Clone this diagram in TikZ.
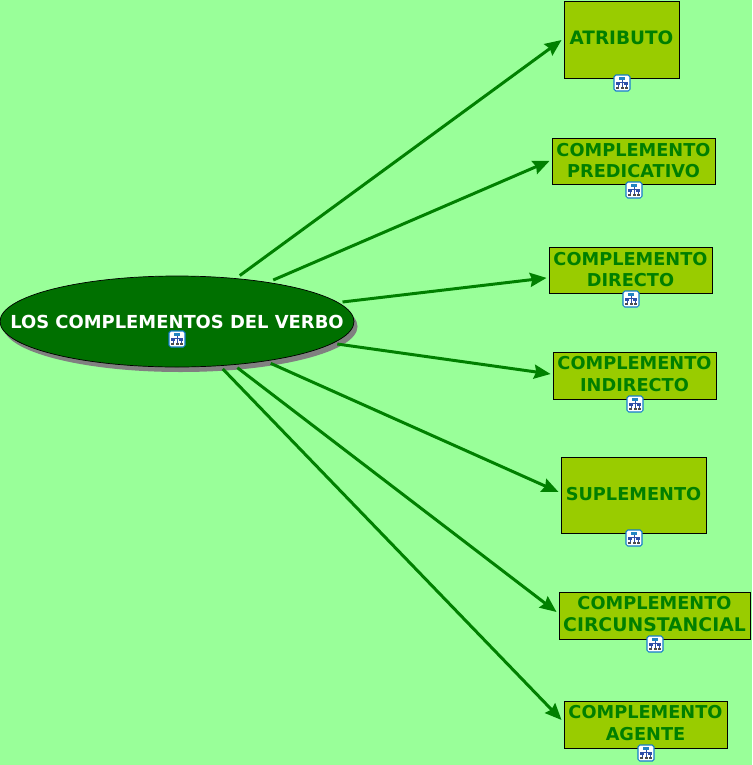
\documentclass[tikz,border=0pt]{standalone}
\usepackage{fontspec}
\setmainfont{DejaVu Sans}
\usetikzlibrary{arrows.meta,shapes.geometric,shadows}
\definecolor{bgcolor}{HTML}{99FF99}
\definecolor{boxcolor}{HTML}{99CC00}
\definecolor{textgreen}{HTML}{007F00}
\definecolor{maincolor}{HTML}{007000}
\definecolor{iconblue}{HTML}{2F4FA8}
\newcommand{\lifted}[1]{\raisebox{-0.5pt}[\height][\depth]{\begin{tabular}{@{}c@{}}#1\end{tabular}}}
\tikzset{
  mainnode/.style={ellipse,draw=black,fill=maincolor,text=white,inner xsep=-1.3cm,inner ysep=0pt,outer sep=2pt,
    font=\fontsize{10.2}{12.2}\selectfont\bfseries,minimum width=354*0.02cm,minimum height=91*0.02cm,
    drop shadow={shadow xshift=0.07cm,shadow yshift=-0.1cm,fill=gray,opacity=1}},
  boxnode/.style={rectangle,draw=black,line width=0.5pt,fill=boxcolor,text=textgreen,inner sep=0pt,
    font=\fontsize{10.1}{12.2}\selectfont\bfseries},
  iconnode/.style={rectangle,rounded corners=1pt,draw=cyan!60!blue,line width=0.6pt,fill=white,
    minimum width=16*0.02cm,minimum height=16*0.02cm,inner sep=0pt},
  linkline/.style={draw=green!50!black,line width=1.7pt,-{Stealth[length=0.33cm,width=0.28cm,inset=0.04cm]}}
}
\begin{document}
\begin{tikzpicture}[x=0.02cm,y=-0.02cm]
\useasboundingbox[fill=bgcolor] (0,0) rectangle (752,765);

\node[mainnode] (main) at (177,321.5) {LOS COMPLEMENTOS DEL VERBO};

\node[boxnode,minimum width=115*0.02cm,minimum height=77*0.02cm] (atributo) at (621.5,39.5) {\lifted{\fontsize{10.5}{12.2}\selectfont ATRIBUTO}};
\node[boxnode,minimum width=163*0.02cm,minimum height=46*0.02cm] (predicativo) at (633.5,161.9) {\lifted{COMPLEMENTO\\PREDICATIVO}};
\node[boxnode,minimum width=163*0.02cm,minimum height=46*0.02cm] (directo) at (630.5,270.9) {\lifted{COMPLEMENTO\\DIRECTO}};
\node[boxnode,minimum width=163*0.02cm,minimum height=47*0.02cm] (indirecto) at (634.5,375.5) {\lifted{COMPLEMENTO\\INDIRECTO}};
\node[boxnode,minimum width=145*0.02cm,minimum height=76*0.02cm] (suplemento) at (633.5,495) {\lifted{SUPLEMENTO}};
\node[boxnode,minimum width=191*0.02cm,minimum height=47*0.02cm] (circunstancial) at (654.5,615.5) {\lifted{COMPLEMENTO\\\fontsize{10.7}{12.2}\selectfont CIRCUNSTANCIAL}};
\node[boxnode,minimum width=163*0.02cm,minimum height=47*0.02cm] (agente) at (645.5,724.5) {\lifted{COMPLEMENTO\\AGENTE}};

\foreach \n/\d in {atributo/0.5,predicativo/-1,directo/7,indirecto/-1.5,suplemento/-3,circunstancial/-3.5,agente/-4.5}
         {
           \coordinate (tip\n) at ([shift={(-2,\d)}]\n.west);
           \draw[linkline] (main) -- (tip\n);
         }

\foreach \n/\i/\j in {iconmain/177/339,iconatributo/622/83,iconpredicativo/634/190,icondirecto/631/299,iconindirecto/635/404,iconsuplemento/634/538,iconcircunstancial/655/644,iconagente/646/753}
         {
           \node[iconnode] (\n) at (\i,\j) {};
           \draw[iconblue,line width=0.3pt] (\i,\j-4) -- (\i,\j+4);
           \draw[iconblue,line width=0.3pt] (\i-4,\j+4) -- (\i-4,\j-1) -- (\i+4,\j-1) -- (\i+4,\j+4);
           \fill[iconblue!70!cyan] (\i-3,\j-6) rectangle (\i+3,\j-3);
           \fill[iconblue] (\i-6,\j-1) rectangle (\i-2,\j+2);
           \fill[iconblue] (\i+2,\j-1) rectangle (\i+6,\j+2);
           \fill[black!70] (\i-6,\j+4) rectangle (\i-3,\j+6);
           \fill[black!70] (\i-1.5,\j+4) rectangle (\i+1.5,\j+6);
           \fill[black!70] (\i+3,\j+4) rectangle (\i+6,\j+6);
         }
\end{tikzpicture}
\end{document}
